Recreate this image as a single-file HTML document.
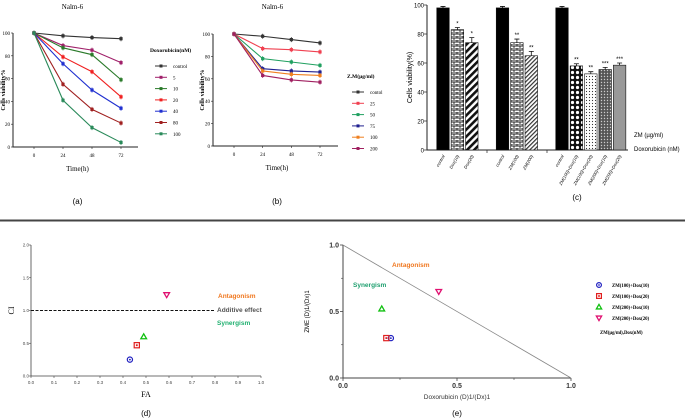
<!DOCTYPE html>
<html><head><meta charset="utf-8"><style>
body{margin:0;background:#fff;}
svg{display:block;font-family:"Liberation Sans",sans-serif;}
.serif{font-family:"Liberation Serif",serif;}
</style></head><body>
<svg id="s" width="685" height="420" viewBox="0 0 685 420">
<defs>
<pattern id="pBrick" width="6" height="4" patternUnits="userSpaceOnUse"><rect width="6" height="4" fill="#fff"/><path d="M0 0H6M0 2H6M1 0V2M4 2V4" stroke="#222" stroke-width="0.9"/></pattern>
<pattern id="pDiag" width="5" height="5" patternUnits="userSpaceOnUse" patternTransform="rotate(45)"><rect width="5" height="5" fill="#fff"/><rect width="2.6" height="5" fill="#111"/></pattern>
<pattern id="pDiag2" width="3" height="3" patternUnits="userSpaceOnUse" patternTransform="rotate(45)"><rect width="3" height="3" fill="#fff"/><rect width="1.2" height="3" fill="#333"/></pattern>
<pattern id="pDots" width="5" height="5" patternUnits="userSpaceOnUse"><rect width="5" height="5" fill="#111"/><circle cx="2.5" cy="2.5" r="1.6" fill="#fff"/></pattern>
<pattern id="pFine" width="3" height="3" patternUnits="userSpaceOnUse"><rect width="3" height="3" fill="#fff"/><circle cx="1.5" cy="1.5" r="0.6" fill="#333"/></pattern>
<pattern id="pCross" width="3" height="3" patternUnits="userSpaceOnUse"><rect width="3" height="3" fill="#555"/><circle cx="1.5" cy="1.5" r="0.7" fill="#ccc"/></pattern>
</defs>
<line x1="0" y1="220.5" x2="685" y2="220.5" stroke="#444" stroke-width="2"/>
<g id="ga"></g>
<g id="gb"></g>
<g id="gc"></g>
<g id="gd"></g>
<g id="ge"></g>
</svg>
<script>
// ---- panel a data
const aTimes=[0,24,48,72];
const aYTicks=[0,20,40,60,80,100];
const aLabels=["control","5","10","20","40","80","100"];
const aColors=["#333","#a0206a","#2a7a2a","#f02020","#2030d0","#a02020","#2a8a5a"];
const aControl=[100,97.5,96,95];
const aD5=[100,89,85,74];
const aD10=[100,87,81,59];
const aD20=[100,79,66,44];
const aD40=[100,73,50,34];
const aD80=[100,55,33,21];
const aD100=[100,41,17,4];
// ---- panel b data
const bTimes=[0,24,48,72];
const bLabels=["contol","25","50","75","100","200"];
const bColors=["#333","#f04050","#20a060","#202090","#f08020","#a02060"];
const bControl=[100,98,95,92];
const bZ25=[100,87,86,84];
const bZ50=[100,78,75,72];
const bZ75=[100,69,67,66];
const bZ100=[100,67,64,63];
const bZ200=[100,63,59,57];
// ---- panel c data
const cLabels=["control","Dox(10)","Dox(20)","control","ZM(100)","ZM(200)","control","ZM(100)+Dox(10)","ZM(100)+Dox(20)","ZM(200)+Dox(10)","ZM(200)+Dox(20)"];
const cValues=[98,83,74,98,74,65,98,58,52.5,55.5,58.5];
const cErrors=[1,1.5,3.5,1,2.5,3,1,1.5,1.5,1.5,1.5];
const cStars=["","*","*","","**","**","","**","**","***","***"];
const cFills=["#000","url(#pBrick)","url(#pDiag)","#000","url(#pBrick)","url(#pDiag2)","#000","url(#pDots)","url(#pFine)","url(#pCross)","#999"];
const cYTicks=[0,20,40,60,80,100];
// ---- panel d data
const dFA=[0.43,0.46,0.49,0.59];
const dCI=[0.25,0.47,0.6,1.24];
const dXTicks=[0,0.1,0.2,0.3,0.4,0.5,0.6,0.7,0.8,0.9,1.0];
const dYTicks=[0,0.5,1.0,1.5,2.0];
// ---- panel e data
const eX=[0.21,0.19,0.17,0.42];
const eY=[0.3,0.3,0.52,0.65];
const eLabels=["ZM(100)+Dox(10)","ZM(100)+Dox(20)","ZM(200)+Dox(10)","ZM(200)+Dox(20)"];
const eTicks=[0,0.5,1.0];
const markerKinds=["circle","square","tri","tridown"];
const markerColors=["#2020c0","#e02020","#10c010","#e01070"];

const NS="http://www.w3.org/2000/svg";
function mk(p,tag,at,txt){const e=document.createElementNS(NS,tag);for(const k in at)e.setAttribute(k,at[k]);if(txt!==undefined)e.textContent=txt;p.appendChild(e);return e;}

function lineChart(g,o){
  const sx=t=>o.x0+(o.x1-o.x0)*t/72, sy=v=>o.y0-(o.y0-o.y1)*v/100;
  let ax=mk(g,'path',{d:`M${o.ax} ${sy(100)}V${o.y0}H${o.axEnd}`,stroke:'#222',fill:'none','stroke-width':1});
  
  
  aYTicks.forEach(v=>{mk(g,'line',{x1:o.ax-2,x2:o.ax,y1:sy(v),y2:sy(v),stroke:'#222','stroke-width':0.6});
    let t=mk(g,'text',{x:o.ax-3,y:sy(v)+2,'font-size':5,'text-anchor':'end',class:'serif'},v);
    
    });
  o.times.forEach(v=>{mk(g,'line',{x1:sx(v),x2:sx(v),y1:o.y0,y2:o.y0+2,stroke:'#222','stroke-width':0.6});
    let t=mk(g,'text',{x:sx(v),y:o.y0+10,'font-size':5,'text-anchor':'middle',class:'serif'},v);
    
    });
  o.series.forEach((s,i)=>{
    const pts=s.map((v,j)=>`${sx(o.times[j])},${sy(v)}`).join(' ');
    let pl=mk(g,'polyline',{points:pts,fill:'none',stroke:o.colors[i],'stroke-width':1.1});
    
    
    s.forEach((v,j)=>{mk(g,'line',{x1:sx(o.times[j]),x2:sx(o.times[j]),y1:sy(v)-2.5,y2:sy(v)+2.5,stroke:o.colors[i],'stroke-width':0.8});
      mk(g,'rect',{x:sx(o.times[j])-1.6,y:sy(v)-1.6,width:3.2,height:3.2,fill:o.colors[i]});});
    const ly=o.legY+i*o.legDy;
    mk(g,'line',{x1:o.legX,x2:o.legX+12,y1:ly,y2:ly,stroke:o.colors[i],'stroke-width':1});
    mk(g,'rect',{x:o.legX+4.5,y:ly-1.5,width:3,height:3,fill:o.colors[i]});
    let lt=mk(g,'text',{x:o.legX+18,y:ly+2,'font-size':5,class:'serif'},o.labels[i]);
    
    
  });
  mk(g,'text',{x:o.legX-5,y:o.legY-14,'font-size':5.5,'font-weight':'bold',class:'serif'},o.legTitle);
  mk(g,'text',{x:(o.ax+o.axEnd)/2-3,y:9,'font-size':7,'text-anchor':'middle',class:'serif'},'Nalm-6');
  mk(g,'text',{x:(o.x0+o.x1)/2,y:o.y0+24,'font-size':7,'text-anchor':'middle',class:'serif'},'Time(h)');
  mk(g,'text',{x:0,y:0,'font-size':6,'font-weight':'bold','text-anchor':'middle',class:'serif',transform:`translate(${o.labX},${(o.y0+o.y1)/2}) rotate(-90)`},'Cells viability%');
  mk(g,'text',{x:(o.x0+o.x1)/2,y:204,'font-size':8,'text-anchor':'middle'},o.tag);
}
lineChart(document.getElementById('ga'),{ax:13,axEnd:138,x0:34,x1:121,y0:147,y1:33,labX:5,times:aTimes,series:[aControl,aD5,aD10,aD20,aD40,aD80,aD100],colors:aColors,labels:aLabels,legX:155,legY:66,legDy:11.3,legTitle:'Doxorubicin(nM)',tag:'(a)'});
lineChart(document.getElementById('gb'),{ax:213,axEnd:338,x0:234,x1:320,y0:146,y1:34,labX:204,times:bTimes,series:[bControl,bZ25,bZ50,bZ75,bZ100,bZ200],colors:bColors,labels:bLabels,legX:352,legY:92,legDy:11.3,legTitle:'Z.M(µg/ml)',tag:'(b)'});

// panel c
(function(){
  const g=document.getElementById('gc');
  const ax=427,y0=150,y100=5,sy=v=>y0-(y0-y100)*v/100;
  const slot=i=>{const grp=i<3?0:i<6?1:2;const k=i<3?i:i<6?i-3:i-6;return 443+grp*59.5+k*14.4;};
  mk(g,'path',{d:`M${ax} ${y100}V${y0}H628`,stroke:'#222',fill:'none','stroke-width':1});
  cYTicks.forEach(v=>{mk(g,'line',{x1:ax-3,x2:ax,y1:sy(v),y2:sy(v),stroke:'#222','stroke-width':0.7});
    let t=mk(g,'text',{x:ax-3,y:sy(v)+2.5,'font-size':6,'text-anchor':'end'},v);
    
    });
  [487,547].forEach(x=>mk(g,'line',{x1:x,x2:x,y1:y0,y2:y0+3,stroke:'#222','stroke-width':0.7}));
  cValues.forEach((v,i)=>{
    const cx=slot(i),w=12.5;
    let r=mk(g,'rect',{x:cx-w/2,y:sy(v),width:w,height:y0-sy(v),fill:cFills[i],stroke:'#111','stroke-width':0.6});
    
    
    const te=sy(v+cErrors[i]);
    mk(g,'path',{d:`M${cx} ${sy(v)}V${te}M${cx-2.5} ${te}H${cx+2.5}`,stroke:'#111','stroke-width':0.8});
    if(cStars[i])mk(g,'text',{x:cx,y:te-2,'font-size':6,'text-anchor':'middle'},cStars[i]);
    let t=mk(g,'text',{x:0,y:0,'font-size':4.3,'font-style':'italic','text-anchor':'end',transform:`translate(${cx+2},${y0+6}) rotate(-60)`},cLabels[i]);
    
    
  });
  mk(g,'text',{x:0,y:0,'font-size':7,'text-anchor':'middle',transform:`translate(412,${(y0+y100)/2}) rotate(-90)`},'Cells viability(%)');
  mk(g,'text',{x:634,y:137,'font-size':6},'ZM (µg/ml)');
  mk(g,'text',{x:634,y:151,'font-size':6},'Doxorubicin (nM)');
  mk(g,'text',{x:577,y:200,'font-size':8,'text-anchor':'middle'},'(c)');
})();

function marker(g,kind,x,y,c,s){
  let m;
  if(kind==='circle'){m=mk(g,'circle',{cx:x,cy:y,r:s,fill:'none',stroke:c,'stroke-width':1.2});mk(g,'circle',{cx:x,cy:y,r:s*0.35,fill:c});}
  else if(kind==='square'){m=mk(g,'rect',{x:x-s,y:y-s,width:2*s,height:2*s,fill:'none',stroke:c,'stroke-width':1.2});mk(g,'rect',{x:x-s*0.35,y:y-s*0.35,width:s*0.7,height:s*0.7,fill:c});}
  else if(kind==='tri'){m=mk(g,'polygon',{points:`${x},${y-s*1.1} ${x-s*1.1},${y+s*0.8} ${x+s*1.1},${y+s*0.8}`,fill:'none',stroke:c,'stroke-width':1.3});}
  else {m=mk(g,'polygon',{points:`${x},${y+s*1.1} ${x-s*1.1},${y-s*0.8} ${x+s*1.1},${y-s*0.8}`,fill:'none',stroke:c,'stroke-width':1.3});}
  
  
}

// panel d
(function(){
  const g=document.getElementById('gd');
  const x0=31,x1=261,y0=376,y1=245;
  const sx=v=>x0+(x1-x0)*v, sy=v=>y0-(y0-y1)*v/2;
  mk(g,'path',{d:`M${x0} ${y1}V${y0}H${x1}`,stroke:'#444',fill:'none','stroke-width':0.8});
  dXTicks.forEach(v=>{mk(g,'line',{x1:sx(v),x2:sx(v),y1:y0,y2:y0+2,stroke:'#444','stroke-width':0.6});
    let t=mk(g,'text',{x:sx(v),y:y0+8,'font-size':4.5,'text-anchor':'middle',fill:'#444'},v.toFixed(1));
    
    });
  dYTicks.forEach(v=>{mk(g,'line',{x1:x0-2,x2:x0,y1:sy(v),y2:sy(v),stroke:'#444','stroke-width':0.6});
    let t=mk(g,'text',{x:x0-2,y:sy(v)+1.5,'font-size':4.5,'text-anchor':'end',fill:'#444'},v.toFixed(1));
    
    });
  mk(g,'line',{x1:x0,x2:sx(0.8),y1:sy(1),y2:sy(1),stroke:'#111','stroke-width':1,'stroke-dasharray':'3,1.5'});
  mk(g,'text',{x:218,y:298,'font-size':6.5,'font-weight':'bold',fill:'#f07820'},'Antagonism');
  mk(g,'text',{x:217,y:312,'font-size':6.5,'font-weight':'bold',fill:'#555'},'Additive effect');
  mk(g,'text',{x:217,y:325,'font-size':6.5,'font-weight':'bold',fill:'#20b070'},'Synergism');
  dFA.forEach((v,i)=>marker(g,markerKinds[i],sx(v),sy(dCI[i]),markerColors[i],2.6));
  mk(g,'text',{x:0,y:0,'font-size':8,class:'serif','text-anchor':'middle',transform:`translate(14,${(y0+y1)/2}) rotate(-90)`},'CI');
  mk(g,'text',{x:146,y:397,'font-size':8,class:'serif','text-anchor':'middle'},'FA');
  mk(g,'text',{x:146,y:416,'font-size':8,'text-anchor':'middle'},'(d)');
})();

// panel e
(function(){
  const g=document.getElementById('ge');
  const x0=343,x1=571,y0=378,y1=245;
  const sx=v=>x0+(x1-x0)*v, sy=v=>y0-(y0-y1)*v;
  mk(g,'path',{d:`M${x0} ${y1}V${y0}H${x1}`,stroke:'#444',fill:'none','stroke-width':1});
  mk(g,'line',{x1:sx(0),y1:sy(1),x2:sx(1),y2:sy(0),stroke:'#888','stroke-width':0.8});
  [0.25,0.75].forEach(v=>{mk(g,'line',{x1:sx(v),x2:sx(v),y1:y0,y2:y0+2,stroke:'#444','stroke-width':0.6});mk(g,'line',{x1:x0-2,x2:x0,y1:sy(v),y2:sy(v),stroke:'#444','stroke-width':0.6});});
  eTicks.forEach(v=>{mk(g,'line',{x1:sx(v),x2:sx(v),y1:y0,y2:y0+3,stroke:'#444','stroke-width':0.8});
    mk(g,'line',{x1:x0-3,x2:x0,y1:sy(v),y2:sy(v),stroke:'#444','stroke-width':0.8});
    let t=mk(g,'text',{x:sx(v),y:y0+10,'font-size':7,'font-weight':'bold','text-anchor':'middle',fill:'#333'},v.toFixed(1));
    
    
    let u=mk(g,'text',{x:x0-4,y:sy(v)+2.5,'font-size':7,'font-weight':'bold','text-anchor':'end',fill:'#333'},v.toFixed(1));
    
    });
  mk(g,'text',{x:392,y:267,'font-size':6.5,'font-weight':'bold',fill:'#f07820'},'Antagonism');
  mk(g,'text',{x:353,y:287,'font-size':6.5,'font-weight':'bold',fill:'#20a070'},'Synergism');
  eX.forEach((v,i)=>marker(g,markerKinds[i],sx(v),sy(eY[i]),markerColors[i],2.6));
  eLabels.forEach((l,i)=>{const y=285+i*11;marker(g,markerKinds[i],599,y,markerColors[i],2.4);
    let t=mk(g,'text',{x:612,y:y+2,'font-size':4.8,'font-weight':'bold',class:'serif'},l);
    
    });
  mk(g,'text',{x:600,y:334,'font-size':4.8,'font-weight':'bold',class:'serif'},'ZM(µg/ml),Dox(nM)');
  mk(g,'text',{x:0,y:0,'font-size':6,'text-anchor':'middle',transform:`translate(309,${(y0+y1)/2}) rotate(-90)`},'ZME (D)1/(Dx)1');
  mk(g,'text',{x:457,y:399,'font-size':6.5,'text-anchor':'middle',fill:'#333'},'Doxorubicin (D)1/(Dx)1');
  mk(g,'text',{x:457,y:416,'font-size':8,'text-anchor':'middle'},'(e)');
})();
</script>
</body></html>
